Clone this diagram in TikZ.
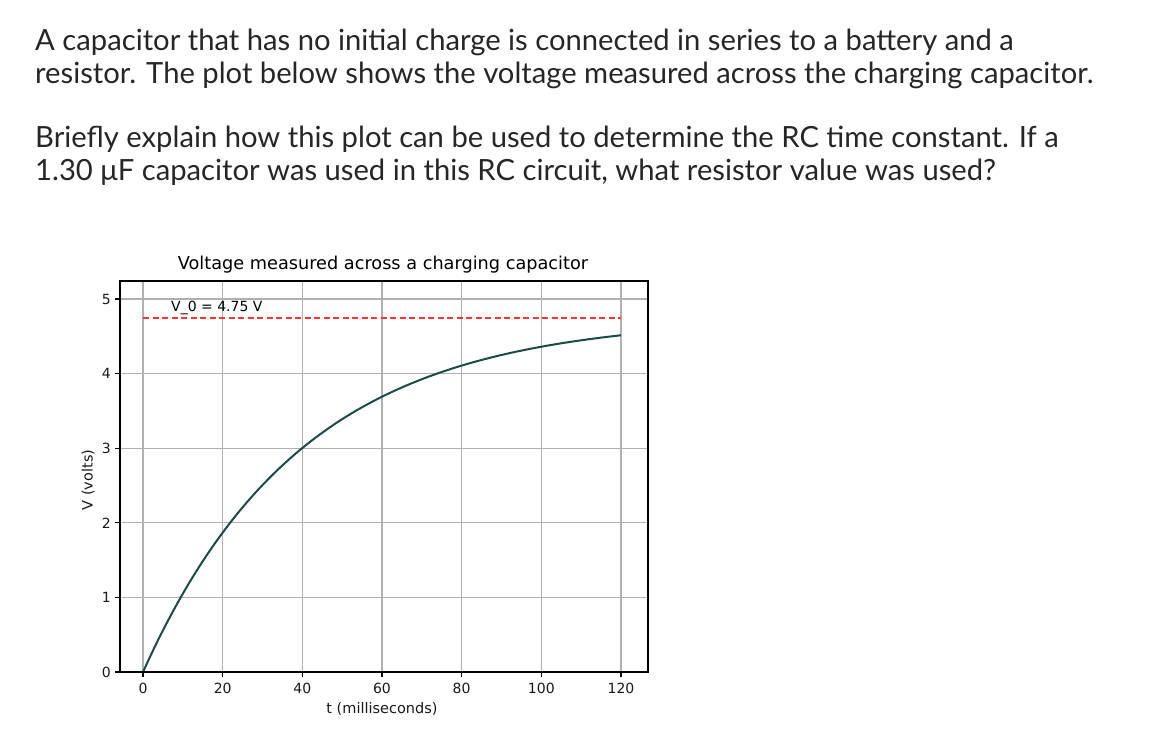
\documentclass[tikz,border=0pt]{standalone}
\usepackage{fontspec}
\setmainfont{Lato}
\newfontfamily\dv{DejaVu Sans}
\definecolor{curvec}{HTML}{1B4A47}
\definecolor{gridc}{HTML}{B0B0B0}
\tikzset{
  qtext/.style={anchor=base west,inner sep=0pt,font=\fontsize{29.2}{32}\selectfont,text=black!85},
  tick/.style={font=\dv\fontsize{14}{16}\selectfont,inner sep=0pt,text=black!90},
  gridline/.style={gridc,line width=1.3pt},
}
\begin{document}
\begin{tikzpicture}[x=1pt,y=-1pt]
\useasboundingbox (0,0) rectangle (1150,744);
\node[qtext] (q1) at (35,50) {A capacitor that has no initial charge is connected in series to a battery and a};
\node[qtext] (q2) at (35,83) {resistor. The plot below shows the voltage measured across the charging capacitor.};
\node[qtext] (q3) at (35,147) {Briefly explain how this plot can be used to determine the RC time constant. If a};
\node[qtext] (q4) at (35,180) {1.30 μF capacitor was used in this RC circuit, what resistor value was used?};
% grid
\foreach \i in {0,20,...,120} \draw[gridline] ({143+3.983*\i},281) -- ({143+3.983*\i},672);
\foreach \v in {0,...,5} \draw[gridline] (120,{672-74.6*\v}) -- (648,{672-74.6*\v});
% red dashed
\draw[red!80!white,line width=2pt,dash pattern=on 6pt off 3.5pt] (143,317.6) -- (621,317.6);
\node[font=\dv\fontsize{14}{16}\selectfont,anchor=base west,inner sep=0pt] (v0) at (171,311) {V\_0 = 4.75 V};
% curve
\draw[curvec,line width=2pt] plot[domain=0:120,samples=120,smooth] ({143+3.983*\x},{672-354.35*(1-exp(-\x/40))});
% box
\draw[black,line width=1.3pt] (120,281) rectangle (648,672);
% ticks
\foreach \i in {0,20,...,120} {
  \draw[line width=1.1pt] ({143+3.983*\i},672) -- ({143+3.983*\i},677);
  \node[tick] (xt\i) at ({143+3.983*\i},688) {\i};
}
\foreach \v in {0,...,5} {
  \draw[line width=1.1pt] (115,{672-74.6*\v}) -- (120,{672-74.6*\v});
  \node[tick,anchor=east] (yt\v) at (111,{672-74.6*\v}) {\v};
}
\node[tick,font=\dv\fontsize{14.5}{16}\selectfont] (xl) at (382,709) {t (milliseconds)};
\node[tick,font=\dv\fontsize{14.5}{16}\selectfont,rotate=90] (yl) at (88,480) {V (volts)};
\node[font=\dv\fontsize{17.7}{20}\selectfont,inner sep=0pt] (title) at (383,265) {Voltage measured across a charging capacitor};
\end{tikzpicture}
\end{document}
